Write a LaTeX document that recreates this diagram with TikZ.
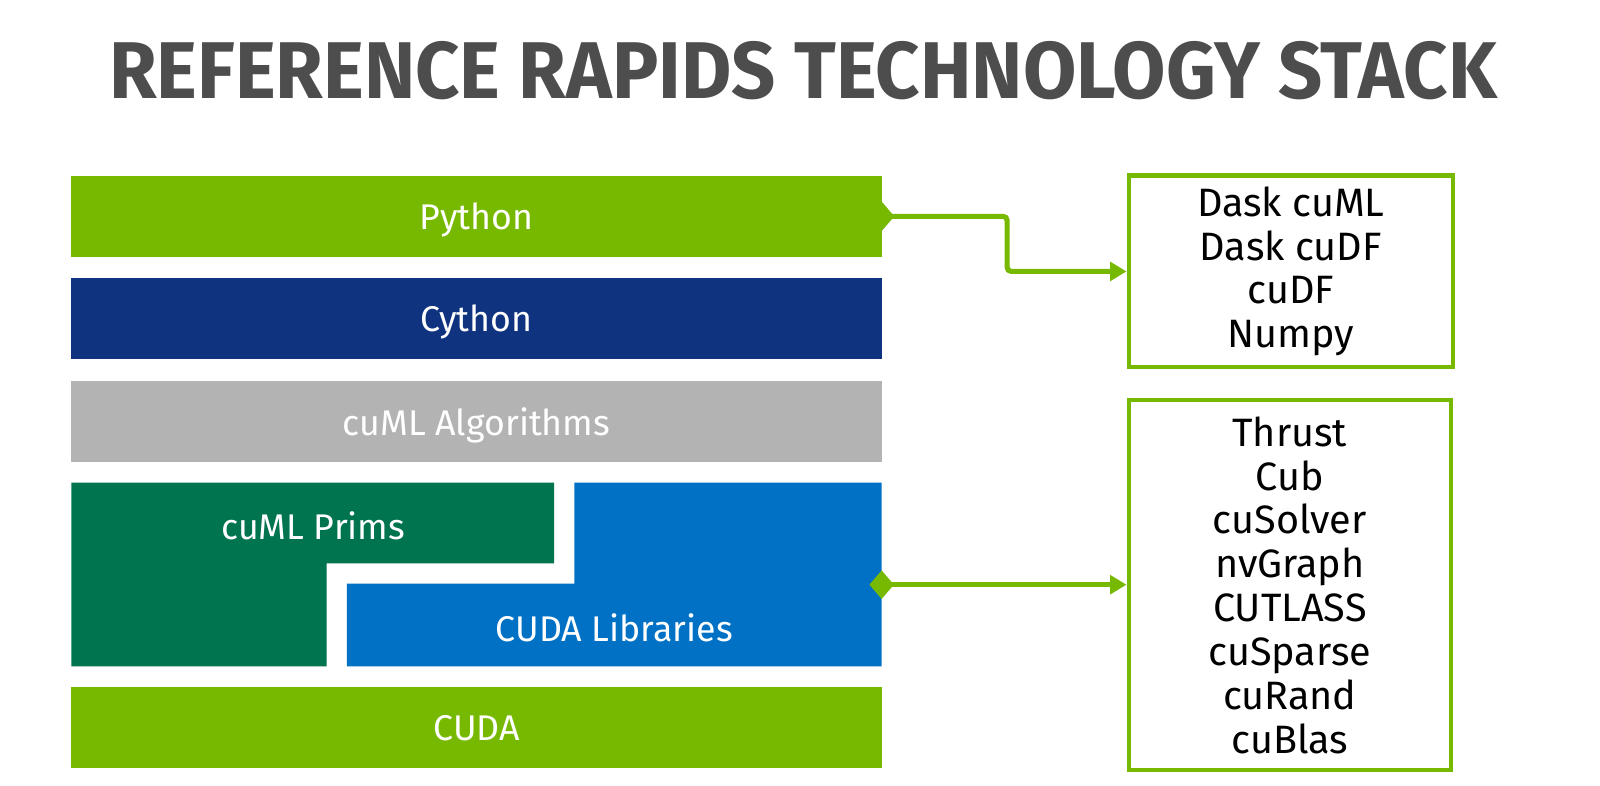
\documentclass[tikz,border=0pt]{standalone}
\usepackage{fontspec}
\setmainfont{Fira Sans}
\usetikzlibrary{arrows.meta}

\definecolor{nvgreen}{HTML}{76B900}
\definecolor{cyblue}{HTML}{0F337F}
\definecolor{alggray}{HTML}{B3B3B3}
\definecolor{primgreen}{HTML}{00734F}
\definecolor{libblue}{HTML}{0071C5}
\definecolor{titlegray}{HTML}{4D4D4D}

\tikzset{
  barlabel/.style={text=white, text depth=0pt, font=\fontsize{17.5}{20}\selectfont},
  bar/.style={barlabel, rectangle, inner sep=0pt, minimum width=397pt, minimum height=40pt},
  listbox/.style={rectangle, draw=nvgreen, line width=2pt, inner sep=0pt, align=center,
    font=\fontsize{19.4}{21.5}\selectfont},
  link/.style={draw=nvgreen, line width=2.5pt, rounded corners=2pt,
    {Diamond[length=12pt,width=14pt]}-{Triangle[length=8pt,width=9pt]}}
}

\begin{document}
\begin{tikzpicture}[x=0.5pt, y=-0.5pt]
  \useasboundingbox (0,0) rectangle (1568,770);

  % title
  \node[text=titlegray, anchor=base] (title) at (787,97)
    {\resizebox{680pt}{28pt}{\bfseries REFERENCE RAPIDS TECHNOLOGY STACK}};

  % stack
  \node[bar, fill=nvgreen] (python) at (467,212) {Python};
  \node[bar, fill=cyblue] (cython) at (467,312) {Cython};
  \node[bar, fill=alggray] (algos) at (467,413) {cuML Algorithms};
  \node[bar, fill=nvgreen] (cuda) at (467,713) {CUDA};

  \fill[primgreen] (70,473) -- (543,473) -- (543,552) -- (320,552) -- (320,653) -- (70,653) -- cycle;
  \fill[libblue] (563,473) -- (864,473) -- (864,653) -- (340,653) -- (340,572) -- (563,572) -- cycle;
  \node[barlabel] (prims) at (307,515) {cuML Prims};
  \node[barlabel] (libs) at (602,615) {CUDA Libraries};
  \coordinate (libs-e) at (852,573);
  \coordinate (elbow) at (987,0);

  % side lists
  \node[listbox, minimum width=159pt, minimum height=94pt] (pylist) at (1265,266)
    {Dask cuML\\Dask cuDF\\cuDF\\Numpy};
  \node[listbox, minimum width=158pt, minimum height=181.5pt] (liblist) at (1264,573.5)
    {Thrust\\Cub\\cuSolver\\nvGraph\\CUTLASS\\cuSparse\\cuRand\\cuBlas};

  % links
  \draw[link] ([xshift=-6pt]python.east) -- (python.east -| elbow) |- (pylist.west);
  \draw[link] (libs-e) -- (libs-e -| liblist.west);
\end{tikzpicture}
\end{document}
